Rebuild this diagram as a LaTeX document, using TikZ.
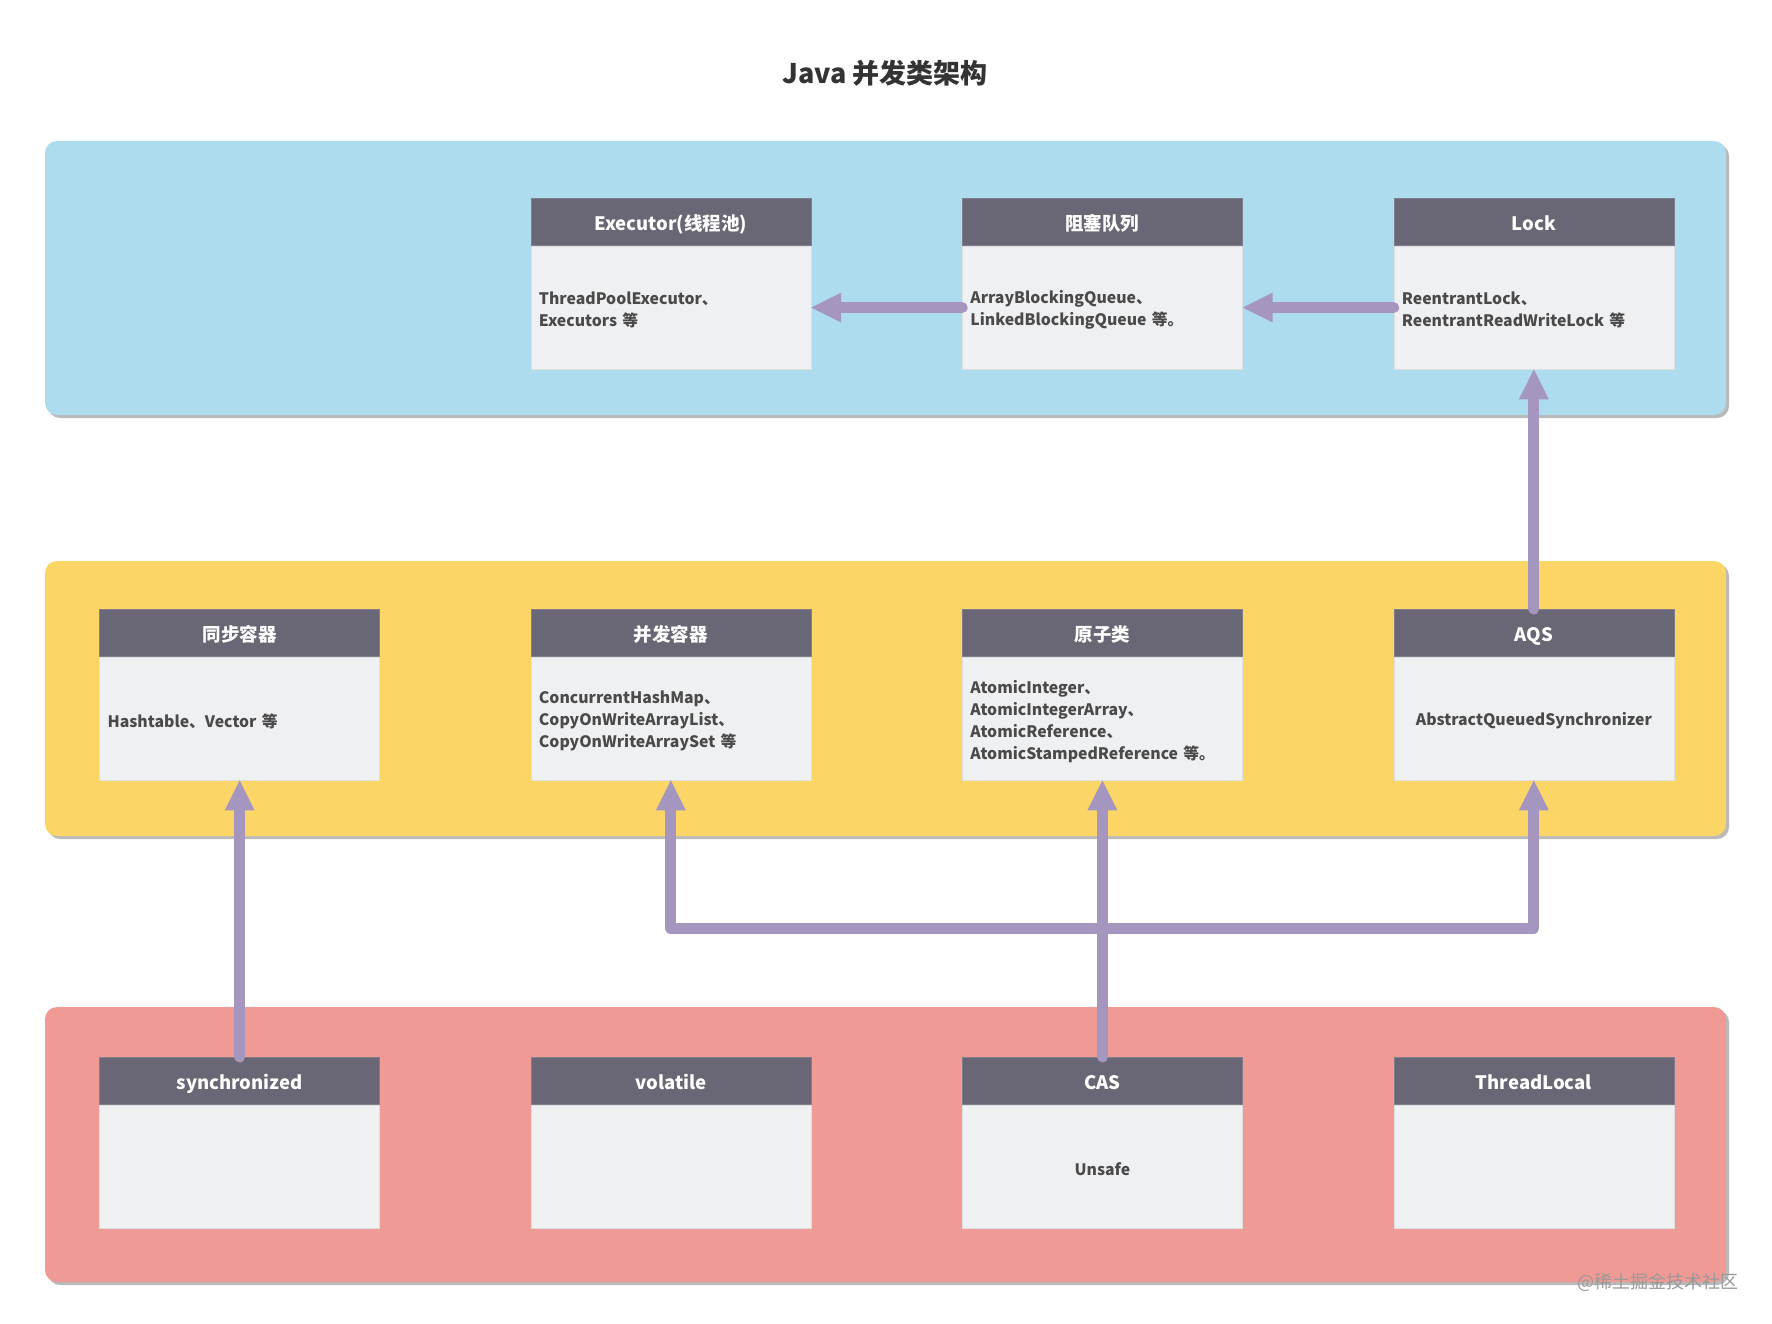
\documentclass[tikz,border=0pt]{standalone}
\usepackage{fontspec}
\setmainfont{Noto Sans CJK SC}
\usetikzlibrary{arrows.meta,shadows}
\definecolor{bandblue}{HTML}{AEDCEF}
\definecolor{bandyellow}{HTML}{FBD667}
\definecolor{bandred}{HTML}{F09A96}
\definecolor{hdrgray}{HTML}{696775}
\definecolor{bodygray}{HTML}{EFF0F2}
\definecolor{linkpurple}{HTML}{A496BE}
\definecolor{txtgray}{HTML}{4A4A4A}
\definecolor{titlegray}{HTML}{333333}
\newcommand\bodytxt{\fontsize{15.8pt}{22pt}\selectfont\bfseries}
\newcommand\hdrtxt{\fontsize{18.5pt}{23pt}\selectfont\bfseries}
\tikzset{
  band/.style={fill=#1, rounded corners=12pt, draw=none,
    drop shadow={shadow xshift=3pt, shadow yshift=-3pt, opacity=0.45, fill=black!60}},
  hdr/.style={fill=hdrgray, draw=hdrgray!85!white, line width=0.8pt, text=white,
    minimum width=280pt, minimum height=47pt, inner sep=0pt, font=\hdrtxt,
    text height=18pt, text depth=0pt, anchor=north west},
  bodybox/.style={fill=bodygray, draw=bodygray!93!black, line width=0.6pt,
    minimum width=280pt, minimum height=123pt, inner sep=0pt, anchor=north},
  bodyL/.style={text=txtgray, text width=264pt, inner sep=0pt,
    align=left, font=\bodytxt},
  bodyC/.style={bodyL, align=center},
  conn/.style={draw=linkpurple, line width=11pt, line cap=round, line join=round},
  >={Triangle[width=30pt,length=30pt,line width=0pt]}
}
\begin{document}
\begin{tikzpicture}[x=1pt,y=-1pt]
\useasboundingbox (0,0) rectangle (1772,1324);
% bands
\path[band=bandblue] (45,141) rectangle (1726,415);
\path[band=bandyellow] (45,561) rectangle (1726,836);
\path[band=bandred] (45,1007) rectangle (1726,1282);
% title
\node[font=\fontsize{27pt}{31pt}\selectfont\bfseries, text=titlegray] (title) at (885,73) {Java 并发类架构};
% top row
\node[hdr] (hExec) at (530.5,198) {Executor(线程池)};
\node[bodybox] (bExec) at (hExec.south) {};
\node[bodyL] (tExec) at ([yshift=-2.5pt]bExec.center) {ThreadPoolExecutor、\\Executors 等};
\node[hdr] (hQueue) at (962,198) {阻塞队列};
\node[bodybox] (bQueue) at (hQueue.south) {};
\node[bodyL] (tQueue) at ([yshift=-2.5pt]bQueue.center) {ArrayBlockingQueue、\\LinkedBlockingQueue 等。};
\node[hdr] (hLock) at (1393.5,198) {Lock};
\node[bodybox] (bLock) at (hLock.south) {};
\node[bodyL] (tLock) at ([yshift=-2.5pt]bLock.center) {ReentrantLock、\\ReentrantReadWriteLock 等};
% middle row
\node[hdr] (hSync) at (99.2,609) {同步容器};
\node[bodybox] (bSync) at (hSync.south) {};
\node[bodyL] (tSync) at ([yshift=-2.5pt]bSync.center) {Hashtable、Vector 等};
\node[hdr] (hConc) at (530.5,609) {并发容器};
\node[bodybox] (bConc) at (hConc.south) {};
\node[bodyL] (tConc) at ([yshift=-2.5pt]bConc.center) {ConcurrentHashMap、\\CopyOnWriteArrayList、\\CopyOnWriteArraySet 等};
\node[hdr] (hAtom) at (962,609) {原子类};
\node[bodybox] (bAtom) at (hAtom.south) {};
\node[bodyL] (tAtom) at ([yshift=-2.5pt]bAtom.center) {AtomicInteger、\\AtomicIntegerArray、\\AtomicReference、\\AtomicStampedReference 等。};
\node[hdr] (hAqs) at (1393.5,609) {AQS};
\node[bodybox] (bAqs) at (hAqs.south) {};
\node[bodyC] (tAqs) at ([yshift=-2.5pt]bAqs.center) {AbstractQueuedSynchronizer};
% bottom row
\node[hdr] (hSyn) at (99.2,1057) {synchronized};
\node[bodybox] (bSyn) at (hSyn.south) {};
\node[hdr] (hVol) at (530.5,1057) {volatile};
\node[bodybox] (bVol) at (hVol.south) {};
\node[hdr] (hCas) at (962,1057) {CAS};
\node[bodybox] (bCas) at (hCas.south) {};
\node[bodyC] (tCas) at ([yshift=-2.5pt]bCas.center) {Unsafe};
\node[hdr] (hTl) at (1393.5,1057) {ThreadLocal};
\node[bodybox] (bTl) at (hTl.south) {};
% connectors
\coordinate (bus) at (0,928);
\draw[conn,->] (bQueue.west) -- (bExec.east);
\draw[conn,->] (bLock.west) -- (bQueue.east);
\draw[conn,->] (hAqs.north) -- (bLock.south);
\draw[conn,->] (hSyn.north) -- (bSync.south);
\draw[conn,<->] (bConc.south) -- (bConc.south |- bus) -- (bAqs.south |- bus) -- (bAqs.south);
\draw[conn,->] (hCas.north) -- (bAtom.south);
% watermark
\node[font=\fontsize{18pt}{20pt}\selectfont, text=black!40] (wm) at (1658,1282) {@稀土掘金技术社区};
\end{tikzpicture}
\end{document}
